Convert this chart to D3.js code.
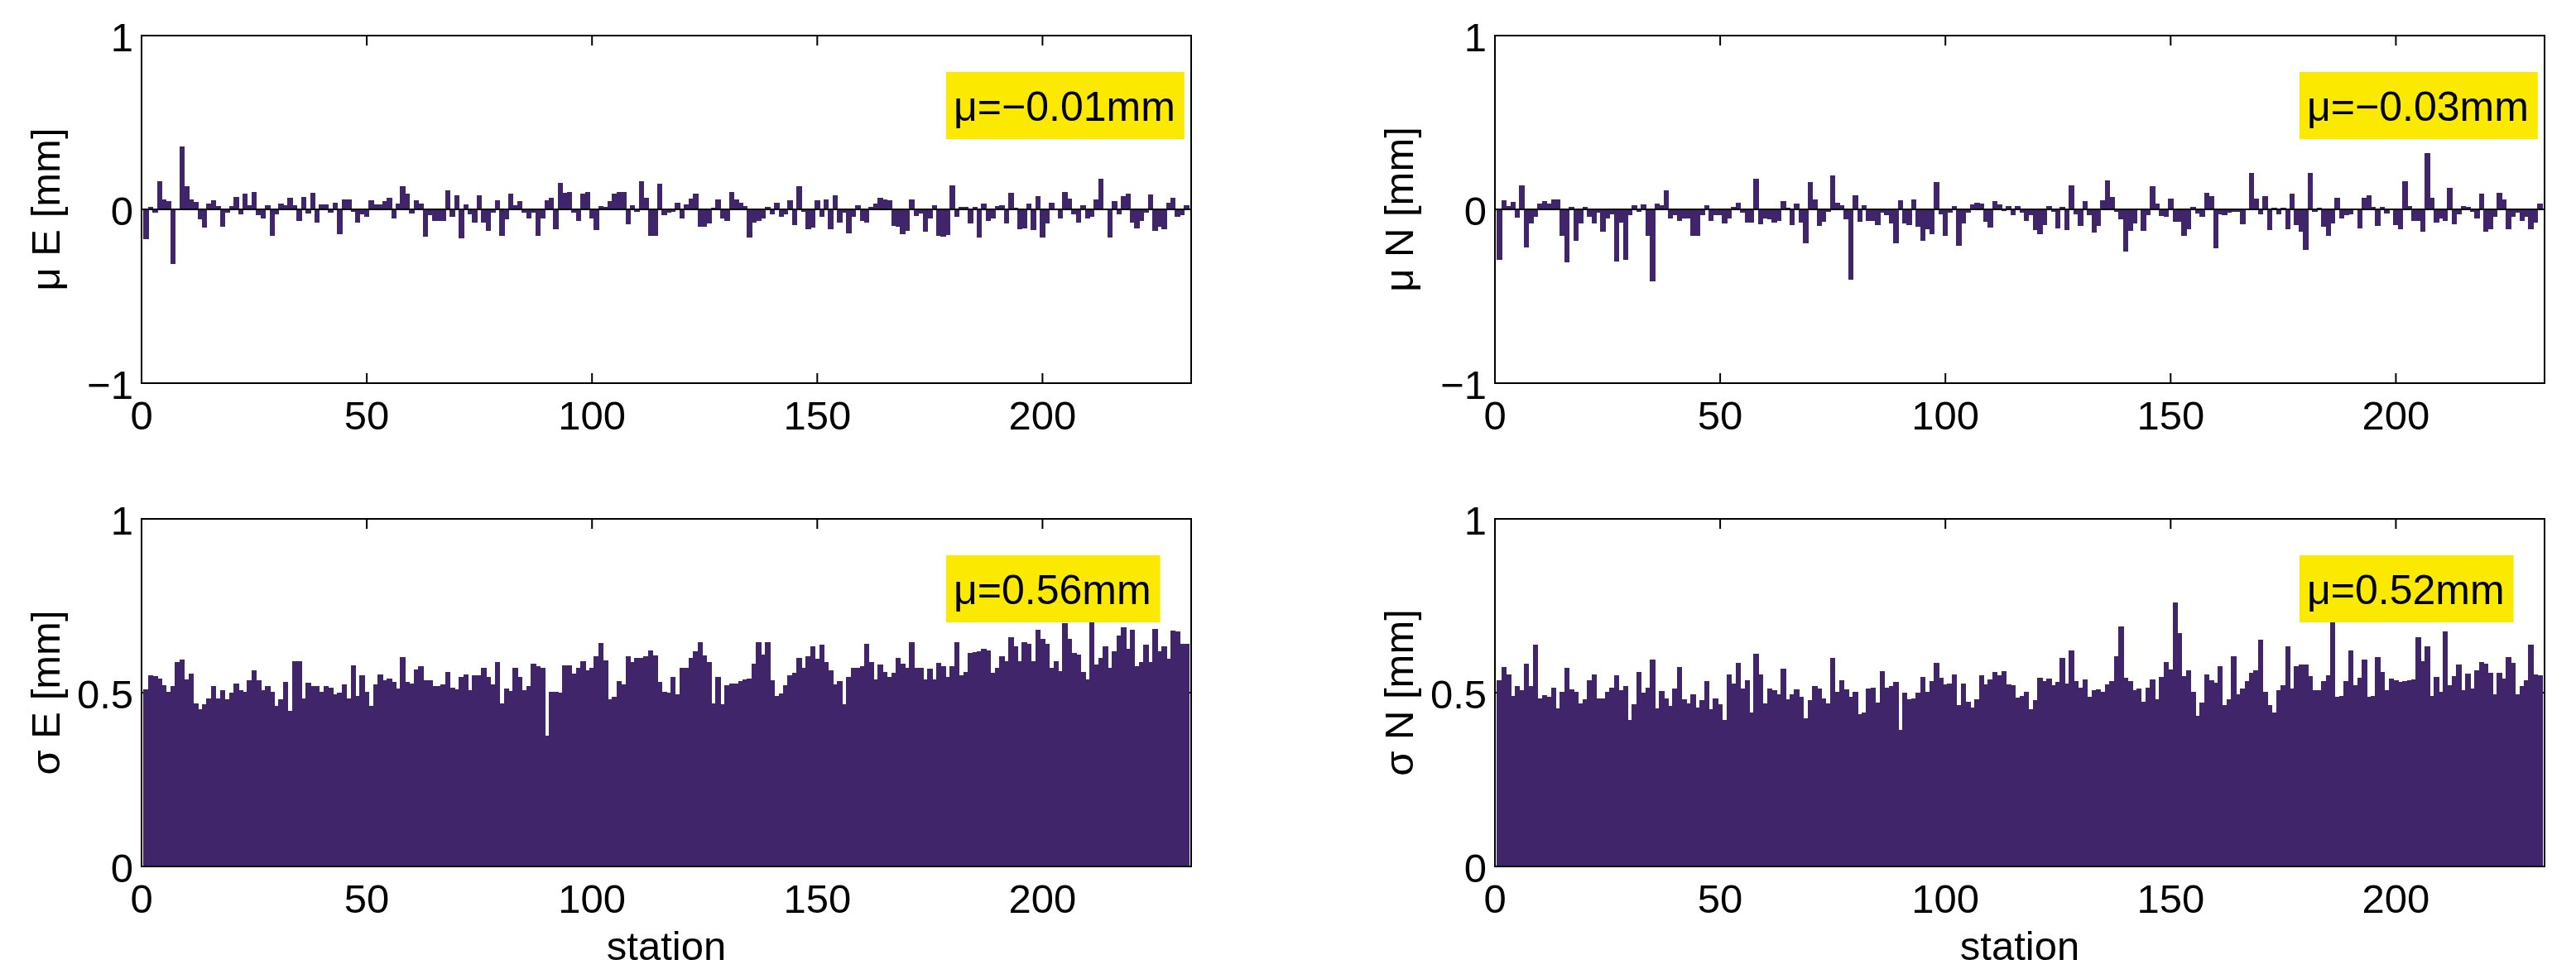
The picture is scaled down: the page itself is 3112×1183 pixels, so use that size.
<!DOCTYPE html>
<html><head><meta charset="utf-8">
<script src="https://cdn.jsdelivr.net/npm/d3@7"></script>
<style>html,body{margin:0;padding:0;background:#fff;} svg{display:block;}</style>
</head><body>
<script>
// ---------------- data ----------------
const stations = d3.range(1, 233);
const muE = [
-0.17,0.01,-0.015,0.16,0.057,0.045,-0.31,0.0,0.36,0.13,
0.054,0.04,-0.057,-0.1,0.033,0.05,0.015,-0.097,-0.017,0.017,
0.068,-0.027,0.09,0.022,0.1,-0.033,-0.05,0.022,-0.15,-0.025,
0.03,0.022,0.062,0.022,-0.065,0.068,-0.02,0.094,-0.073,0.027,
0.027,-0.017,0.038,-0.14,0.054,0.054,-0.01,-0.073,-0.025,-0.04,
0.05,0.027,0.027,0.046,0.065,-0.05,0.03,0.13,0.086,-0.02,
0.05,0.033,-0.157,-0.033,-0.062,-0.065,-0.065,0.106,-0.04,0.08,
-0.163,0.027,-0.025,-0.073,0.078,-0.073,-0.12,-0.017,0.05,-0.148,
-0.057,0.086,0.022,0.046,-0.017,-0.052,-0.017,-0.148,-0.052,0.05,
0.062,-0.113,0.148,0.094,0.1,-0.017,-0.062,0.09,0.097,-0.052,
-0.116,0.017,0.011,0.046,0.086,0.097,0.097,-0.081,0.022,-0.01,
0.16,0.062,-0.152,-0.148,0.144,-0.033,-0.017,-0.01,0.038,-0.05,
0.027,0.06,0.086,-0.097,-0.097,-0.08,0.005,0.054,-0.052,-0.062,
0.1,0.054,0.038,0.017,-0.16,-0.073,-0.062,-0.05,0.014,-0.027,
0.038,-0.04,-0.025,0.05,-0.09,0.13,-0.01,-0.11,-0.1,0.05,
-0.04,0.054,-0.11,0.08,-0.073,-0.017,-0.137,-0.04,0.022,-0.065,
-0.073,0.011,0.03,0.062,0.054,0.05,-0.094,-0.097,-0.14,-0.12,
0.054,-0.037,-0.02,-0.125,-0.052,0.02,-0.152,-0.157,-0.144,0.138,
-0.04,0.014,0.011,-0.08,0.014,-0.16,0.03,-0.065,-0.052,0.017,
0.02,-0.08,0.094,0.006,-0.113,-0.105,0.03,-0.116,0.075,-0.16,
-0.08,0.038,0.003,-0.05,0.097,0.06,-0.025,-0.073,0.022,-0.05,
-0.04,0.054,0.176,0.0,-0.16,0.043,-0.025,0.075,0.086,-0.073,
-0.105,-0.062,-0.017,0.084,-0.12,-0.097,-0.113,0.038,0.062,-0.04,
-0.03,0.02];
const muN = [
-0.29,0.05,0.015,0.04,-0.046,0.138,-0.216,-0.078,-0.04,0.033,
0.043,0.033,0.054,0.054,-0.148,-0.3,0.011,-0.18,-0.08,0.011,
-0.04,-0.078,-0.017,-0.128,-0.05,-0.025,-0.297,-0.073,-0.287,-0.033,
0.022,-0.01,0.027,-0.148,-0.414,0.033,0.022,0.106,-0.052,-0.033,
-0.065,-0.05,-0.05,-0.152,-0.152,-0.033,0.022,-0.062,-0.03,-0.033,
-0.078,-0.05,0.014,0.038,-0.017,-0.073,-0.073,0.173,-0.084,-0.052,
-0.057,-0.073,-0.065,0.043,0.006,-0.09,0.033,-0.073,-0.195,0.154,
0.054,-0.094,-0.068,-0.01,0.192,0.038,0.022,-0.057,-0.4,0.08,
-0.068,0.022,-0.065,-0.062,-0.09,-0.017,-0.033,-0.078,-0.195,0.05,
-0.078,-0.09,0.054,-0.097,-0.18,-0.113,-0.14,0.157,-0.025,-0.152,
-0.017,0.017,-0.205,-0.08,-0.017,0.027,0.038,0.033,-0.068,-0.1,
0.046,0.027,-0.005,0.017,-0.03,0.017,-0.017,-0.062,-0.033,-0.116,
-0.14,-0.09,0.017,-0.01,-0.105,0.011,-0.116,0.138,-0.025,-0.094,
0.043,-0.03,-0.132,-0.094,0.05,0.165,0.07,-0.01,-0.057,-0.24,
-0.12,-0.078,0.0,-0.12,-0.03,0.133,0.03,-0.037,-0.04,0.06,
-0.068,-0.068,-0.148,-0.113,0.014,-0.02,-0.04,0.094,0.075,-0.22,
-0.025,-0.03,-0.017,-0.014,-0.01,-0.084,0.0,0.208,0.06,-0.025,
0.075,-0.116,0.006,-0.025,0.006,-0.11,0.09,-0.09,-0.125,-0.232,
0.205,-0.01,0.006,-0.097,-0.148,-0.08,0.062,-0.05,-0.033,-0.025,
0.0,-0.105,0.062,0.08,0.011,-0.094,0.011,-0.02,0.0,-0.09,
-0.11,0.16,0.017,-0.065,-0.065,-0.125,0.32,0.065,-0.073,-0.052,
-0.062,0.122,-0.084,-0.025,0.017,0.011,-0.01,-0.052,0.086,-0.125,
-0.11,-0.04,0.094,0.054,-0.11,-0.04,-0.017,-0.065,-0.04,-0.11,
-0.073,0.03];
const sigmaE = [
0.509,0.548,0.547,0.54,0.52,0.502,0.519,0.587,0.593,0.537,
0.553,0.469,0.452,0.465,0.483,0.517,0.483,0.505,0.479,0.498,
0.526,0.506,0.501,0.534,0.564,0.535,0.507,0.517,0.501,0.46,
0.479,0.529,0.447,0.59,0.59,0.483,0.527,0.519,0.518,0.501,
0.517,0.514,0.494,0.499,0.522,0.483,0.577,0.489,0.549,0.502,
0.46,0.522,0.552,0.534,0.539,0.529,0.511,0.602,0.53,0.526,
0.566,0.575,0.535,0.535,0.519,0.518,0.522,0.558,0.513,0.509,
0.543,0.551,0.505,0.549,0.55,0.57,0.543,0.522,0.588,0.469,
0.51,0.504,0.571,0.543,0.506,0.517,0.582,0.574,0.571,0.375,
0.502,0.501,0.5,0.577,0.577,0.554,0.57,0.59,0.562,0.571,
0.603,0.641,0.591,0.479,0.488,0.531,0.523,0.604,0.586,0.598,
0.599,0.604,0.62,0.607,0.529,0.501,0.5,0.544,0.494,0.571,
0.571,0.598,0.618,0.644,0.606,0.587,0.467,0.544,0.465,0.521,
0.525,0.526,0.533,0.536,0.539,0.582,0.643,0.608,0.643,0.535,
0.489,0.497,0.521,0.548,0.556,0.598,0.571,0.604,0.631,0.596,
0.636,0.587,0.564,0.522,0.531,0.465,0.544,0.571,0.571,0.576,
0.639,0.588,0.537,0.579,0.558,0.544,0.556,0.598,0.582,0.571,
0.644,0.571,0.571,0.537,0.567,0.537,0.584,0.574,0.544,0.574,
0.645,0.548,0.558,0.613,0.616,0.618,0.626,0.621,0.556,0.571,
0.604,0.59,0.658,0.633,0.59,0.644,0.64,0.59,0.679,0.653,
0.64,0.571,0.59,0.56,0.698,0.653,0.613,0.608,0.558,0.537,
0.703,0.579,0.598,0.633,0.571,0.618,0.663,0.687,0.624,0.679,
0.574,0.587,0.636,0.588,0.683,0.618,0.633,0.596,0.677,0.675,
0.64,0.64];
const sigmaN = [
0.534,0.572,0.552,0.489,0.518,0.507,0.583,0.519,0.637,0.481,
0.491,0.487,0.513,0.453,0.502,0.57,0.509,0.501,0.467,0.479,
0.535,0.551,0.483,0.483,0.501,0.514,0.55,0.505,0.519,0.421,
0.465,0.558,0.499,0.513,0.594,0.453,0.503,0.483,0.461,0.51,
0.572,0.479,0.469,0.494,0.455,0.477,0.531,0.451,0.483,0.465,
0.42,0.552,0.525,0.584,0.51,0.534,0.441,0.61,0.552,0.469,
0.51,0.506,0.494,0.567,0.479,0.493,0.509,0.487,0.425,0.477,
0.518,0.51,0.483,0.469,0.6,0.501,0.534,0.509,0.487,0.501,
0.437,0.442,0.51,0.513,0.471,0.56,0.514,0.518,0.529,0.391,
0.499,0.479,0.483,0.499,0.544,0.501,0.533,0.584,0.542,0.523,
0.525,0.552,0.463,0.526,0.473,0.455,0.479,0.548,0.522,0.536,
0.558,0.548,0.56,0.522,0.521,0.485,0.489,0.502,0.452,0.477,
0.542,0.533,0.539,0.521,0.529,0.598,0.526,0.621,0.533,0.513,
0.537,0.487,0.507,0.509,0.501,0.522,0.533,0.604,0.69,0.542,
0.531,0.505,0.511,0.473,0.513,0.537,0.479,0.544,0.588,0.566,
0.758,0.671,0.546,0.563,0.501,0.432,0.471,0.552,0.535,0.527,
0.576,0.464,0.479,0.604,0.493,0.51,0.531,0.556,0.562,0.652,
0.502,0.463,0.441,0.505,0.521,0.632,0.511,0.576,0.58,0.579,
0.547,0.505,0.505,0.531,0.55,0.703,0.487,0.489,0.531,0.621,
0.521,0.542,0.594,0.487,0.489,0.602,0.558,0.507,0.539,0.534,
0.529,0.531,0.534,0.537,0.658,0.59,0.632,0.489,0.543,0.501,
0.674,0.521,0.547,0.58,0.505,0.554,0.51,0.562,0.588,0.582,
0.556,0.494,0.556,0.539,0.602,0.584,0.493,0.517,0.534,0.636,
0.552,0.55];
const xTicks = [0, 50, 100, 150, 200];
const yTicksMu = [-1, 0, 1];
const yTicksSigma = [0, 0.5, 1];
const yLabels = ["μ E [mm]", "μ N [mm]", "σ E [mm]", "σ N [mm]"];
const boxLabels = ["μ=−0.01mm", "μ=−0.03mm", "μ=0.56mm", "μ=0.52mm"];
const xLabel = "station";

// ---------------- layout ----------------
const W = 3112, H = 1183;
const PW = 1268, PH = 420;
const FONT = "'Liberation Sans', Arial, Helvetica, sans-serif";
const FS = 49;
const BAR = "#41256a";
const panels = [
  {left: 171,  top: 43,  values: muE,    domain: [-1, 1], ticks: yTicksMu,    ylab: yLabels[0], box: boxLabels[0], xlab: false},
  {left: 1806, top: 43,  values: muN,    domain: [-1, 1], ticks: yTicksMu,    ylab: yLabels[1], box: boxLabels[1], xlab: false},
  {left: 171,  top: 627, values: sigmaE, domain: [0, 1],  ticks: yTicksSigma, ylab: yLabels[2], box: boxLabels[2], xlab: true},
  {left: 1806, top: 627, values: sigmaN, domain: [0, 1],  ticks: yTicksSigma, ylab: yLabels[3], box: boxLabels[3], xlab: true}
];

const svg = d3.select("body").append("svg").attr("width", W).attr("height", H)
  .style("font-family", FONT);
svg.append("rect").attr("width", W).attr("height", H).attr("fill", "#fff");

const fmt = d => d < 0 ? "\u2212" + Math.abs(d) : String(d);

panels.forEach(p => {
  const x = d3.scaleLinear().domain([0, 233]).range([0, PW]);
  const y = d3.scaleLinear().domain(p.domain).range([PH, 0]);
  const g = svg.append("g").attr("transform", `translate(${p.left},${p.top})`);
  const TL = 12;

  // inward ticks (drawn under the bars)
  const tk = g.append("g").attr("stroke", "#000").attr("stroke-width", 2);
  xTicks.forEach(t => {
    tk.append("line").attr("x1", x(t)).attr("x2", x(t)).attr("y1", PH).attr("y2", PH - TL);
    tk.append("line").attr("x1", x(t)).attr("x2", x(t)).attr("y1", 0).attr("y2", TL);
  });
  p.ticks.forEach(t => {
    tk.append("line").attr("x1", 0).attr("x2", TL).attr("y1", y(t)).attr("y2", y(t));
    tk.append("line").attr("x1", PW).attr("x2", PW - TL).attr("y1", y(t)).attr("y2", y(t));
  });

  // bars
  const data = stations.map((s, i) => ({s, v: p.values[i]}));
  g.append("g").attr("shape-rendering", "crispEdges")
    .selectAll("rect").data(data).join("rect")
    .attr("x", d => x(d.s - 0.5))
    .attr("width", d => x(d.s + 0.5) - x(d.s - 0.5))
    .attr("y", d => y(Math.max(0, d.v)))
    .attr("height", d => Math.abs(y(d.v) - y(0)))
    .attr("fill", BAR).attr("stroke", BAR).attr("stroke-width", 1);

  // baseline at 0
  g.append("line").attr("x1", 0).attr("x2", PW).attr("y1", y(0)).attr("y2", y(0))
    .attr("stroke", "#000").attr("stroke-width", 2.2);

  // axes box
  g.append("rect").attr("x", 0).attr("y", 0).attr("width", PW).attr("height", PH)
    .attr("fill", "none").attr("stroke", "#000").attr("stroke-width", 2);

  // y tick labels
  g.append("g").selectAll("text").data(p.ticks).join("text")
    .attr("x", -10).attr("y", d => y(d) + 19)
    .attr("text-anchor", "end").attr("font-size", FS).text(fmt);

  // x tick labels
  g.append("g").selectAll("text").data(xTicks).join("text")
    .attr("x", d => x(d)).attr("y", PH + 56)
    .attr("text-anchor", "middle").attr("font-size", FS).text(fmt);

  // y label
  g.append("text").attr("transform", `translate(${-99},${PH / 2}) rotate(-90)`)
    .attr("text-anchor", "middle").attr("font-size", FS).text(p.ylab);

  if (p.xlab) {
    g.append("text").attr("x", PW / 2).attr("y", PH + 113)
      .attr("text-anchor", "middle").attr("font-size", FS).text(xLabel);
  }

  // yellow mean box
  const bx = 972, by = 44;
  const bg = g.append("g");
  const rect = bg.append("rect").attr("x", bx).attr("y", by).attr("height", 81).attr("fill", "#fbe900");
  const t = bg.append("text").attr("x", bx + 9).attr("y", by + 59).attr("font-size", 50).text(p.box);
  const tw = t.node().getComputedTextLength();
  rect.attr("width", tw + 20);
});
</script>
</body></html>
